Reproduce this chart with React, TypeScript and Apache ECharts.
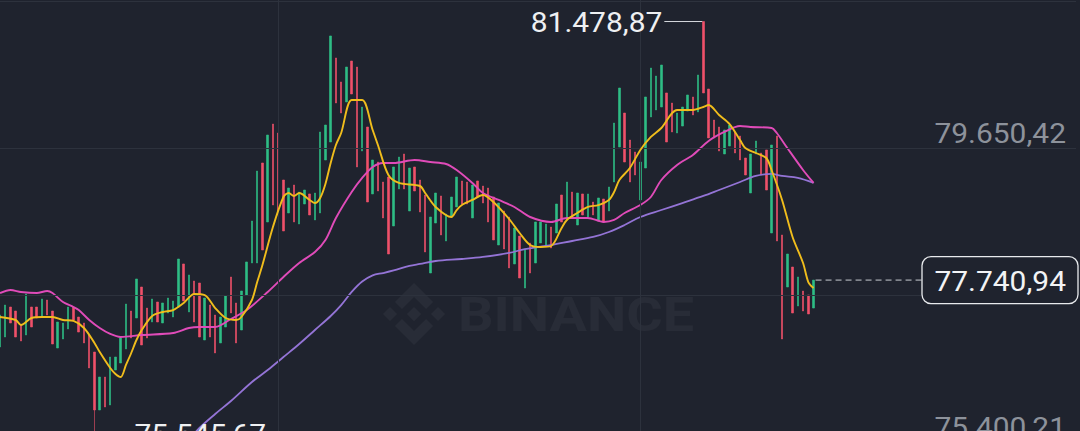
import React, { useEffect, useRef } from "react";
import * as echarts from "echarts";

// ---- data ----
const opens = [
  76774, 76918, 77352, 77294, 77092, 76947, 77352, 77352, 77207, 77453,
  77294, 76759, 76889, 77034, 77352, 77207, 77121, 76947, 76701, 75863,
  76340, 75935, 76441, 76542, 76745, 77294, 77193, 77641, 77337, 77135,
  77424, 77121, 77265, 77207, 77352, 77974, 77280, 77728, 77699, 76875,
  77381, 77236, 76832, 77063, 77786, 77410, 77019, 77525, 77988, 77988,
  79434, 78581, 79997, 79867, 79188, 78711, 79116, 78552, 78841, 78986,
  78610, 78711, 79477, 79737, 80952, 80605, 80316, 80908, 80821, 79607,
  79954, 78986, 79448, 79159, 79231, 78523, 79058, 79564, 78740, 79376,
  79188, 78971, 77843, 78566, 78957, 78306, 78653, 78798, 79174, 79159,
  78639, 79174, 79101, 79072, 78942, 78248, 78740, 78653, 77974, 78378,
  77626, 78277, 77988, 78277, 78248, 78508, 78422, 78971, 78610, 79014,
  78537, 78986, 78653, 78870, 78595, 78913, 78740, 79159, 79665, 80156,
  79766, 79593, 78899, 79361, 80099, 80200, 80243, 80446, 80301, 79867,
  79968, 80185, 80388, 80171, 81478.87, 80503, 80055, 79954, 79564, 79679,
  79882, 79824, 79506, 79000, 79564, 79578, 79622, 78422, 79824, 78393,
  77641, 77930, 77366, 77583, 77525, 77337,
];
const closes = [
  77236, 77381, 77121, 76918, 76860, 77540, 77063, 77193, 77468, 77236,
  76817, 77135, 77121, 77352, 77164, 76990, 76832, 76470, 75863, 76340,
  75906, 76629, 76629, 76904, 77395, 76904, 77757, 76803, 76904, 77468,
  77135, 77410, 77482, 77439, 78046, 77439, 77815, 77135, 76918, 77482,
  76918, 76687, 77207, 77511, 77265, 76832, 77583, 78003, 78595, 79318,
  78176, 79838, 78826, 78682, 78451, 79072, 78581, 79014, 79043, 78682,
  79000, 79882, 79983, 81270, 80301, 80156, 80821, 80431, 79376, 80243,
  78870, 79477, 79029, 78639, 78118, 79376, 79520, 79058, 79361, 79029,
  78725, 78147, 78653, 79000, 78393, 78696, 78942, 79231, 78841, 78841,
  79116, 78942, 78855, 78581, 78321, 78855, 78190, 77916, 78494, 77771,
  78190, 77843, 78581, 78581, 78552, 78205, 78841, 78581, 79159, 78653,
  79000, 78682, 78986, 78682, 78928, 78581, 79087, 80012, 80518, 79448,
  79159, 79260, 79448, 80388, 80807, 80691, 80850, 79737, 79882, 80156,
  80243, 80417, 80128, 80706, 80446, 79795, 79795, 79607, 79911, 79983,
  79578, 79477, 79260, 79564, 79752, 79260, 79043, 79694, 78306, 76889,
  78118, 77265, 77786, 77294, 77251, 77740.94,
];
const lowestCandle = 18;
const lowestLow = 75545.67;
const highestCandle = 134;
const highestHigh = 81478.87;
const lastPrice = 77740.94;

// moving averages as [candle index, value]
const ma7: [number, number][] = [
  [0, 77207], [3, 77164], [4, 77092], [6, 77193], [8, 77207], [10, 77207], [12, 77164],
  [14, 77150], [16, 77048], [18, 76832], [19, 76701], [21, 76470], [22, 76384], [23, 76340],
  [24, 76514], [25, 76687], [26, 76875], [27, 77019], [29, 77222], [31, 77280], [33, 77308],
  [35, 77410], [37, 77540], [39, 77525], [41, 77337], [43, 77193], [45, 77164], [46, 77207],
  [48, 77453], [49, 77713], [50, 77959], [52, 78508], [54, 78942], [55, 79000], [56, 78957],
  [57, 79000], [59, 78899], [60, 78855], [61, 78928], [62, 79130], [63, 79434], [64, 79694],
  [65, 79867], [67, 80344], [69, 80344], [71, 79911], [72, 79694], [74, 79260], [76, 79145],
  [80, 79101], [81, 79000], [83, 78798], [86, 78653], [87, 78754], [88, 78826], [90, 78899],
  [92, 78971], [94, 78870], [97, 78624], [99, 78422], [101, 78248], [103, 78219], [105, 78234],
  [107, 78494], [108, 78610], [110, 78711], [112, 78798], [114, 78826], [116, 78899], [117, 79014],
  [118, 79188], [120, 79361], [122, 79622], [124, 79810], [126, 79940], [129, 80200], [132, 80200],
  [134, 80243], [135, 80272], [137, 80128], [139, 79997], [141, 79766], [142, 79650], [144, 79578],
  [146, 79506], [147, 79332], [149, 78899], [151, 78364], [153, 77988], [154, 77713], [155, 77626],
];
const ma25: [number, number][] = [
  [0, 77554], [2, 77598], [4, 77569], [7, 77554], [9, 77583], [10, 77554], [12, 77424],
  [14, 77352], [15, 77308], [17, 77164], [19, 77048], [21, 76962], [23, 76918], [27, 76947],
  [33, 76976], [36, 77048], [38, 77063], [41, 77063], [44, 77178], [47, 77308], [51, 77569],
  [54, 77786], [57, 77988], [60, 78147], [62, 78321], [64, 78639], [67, 79014], [69, 79217],
  [71, 79376], [73, 79434], [75, 79434], [79, 79477], [82, 79448], [85, 79419], [87, 79332],
  [90, 79145], [92, 79000], [95, 78899], [98, 78798], [101, 78653], [105, 78581], [108, 78639],
  [112, 78639], [115, 78581], [117, 78610], [119, 78711], [122, 78826], [124, 78942], [126, 79188],
  [129, 79405], [132, 79549], [135, 79752], [138, 79882], [141, 79968], [143, 79954], [147, 79940],
  [148, 79867], [150, 79650], [153, 79332], [155, 79145],
];
const ma99: [number, number][] = [
  [36, 75429], [38, 75603], [41, 75805], [44, 75993], [48, 76268], [51, 76441], [54, 76629],
  [57, 76817], [60, 77019], [63, 77222], [65, 77380], [67, 77570], [69, 77720], [71, 77810],
  [73, 77843], [75, 77880], [78, 77945], [80, 77974], [83, 78017], [88, 78046], [92, 78075],
  [97, 78133], [100, 78190], [104, 78234], [109, 78306], [113, 78364], [116, 78436], [119, 78537],
  [122, 78653], [126, 78754], [130, 78855], [134, 78957], [137, 79043], [141, 79159], [144, 79246],
  [147, 79275], [149, 79246], [152, 79217], [155, 79145],
];

const priceLabels = [79650.42, 75400.21];
const gridValues = [81775.53, 79650.42, 77525.32];
const gridCandles = ["53", "122"];
const viewMin = 75559.4;
const viewMax = 81789.9;
const slotCount = 206;
const categories = Array.from({ length: slotCount }, (_, i) => String(i));

// ---- styles ----
const BG = "#1f232e";
const GRID = "#2d323d";
const UP = "#2ebd85";
const DOWN = "#f0506a";
const FONT = "Roboto, 'Noto Sans', sans-serif";
const LABEL_SCALE = 1.07;

const LOGO_D =
  "M38.73 53.2l24.59-24.58 24.6 24.6 14.3-14.31L63.32 0 24.43 38.9l14.3 14.3zM0 63.31l14.3-14.31 14.31 14.31-14.31 14.3L0 63.31zm38.73 10.11l24.59 24.59 24.6-24.6 14.31 14.29-38.9 38.91-38.9-38.88-.02-.02 14.32-14.29zm59.24-10.1l14.3-14.31 14.31 14.3-14.31 14.31-14.3-14.3zM77.83 63.3L63.32 48.78 52.59 59.51l-1.24 1.23-2.54 2.54-.02.02.02.03 14.51 14.5 14.51-14.52.01-.01-.01-.01z";

let logoRegistered = false;

function fmt(v: number): string {
  const [i, d] = v.toFixed(2).split(".");
  return i.replace(/\B(?=(\d{3})+(?!\d))/g, ".") + "," + d;
}

export default function App() {
  const ref = useRef<HTMLDivElement>(null);
  useEffect(() => {
    document.body.style.margin = "0";
    document.body.style.background = BG;
    if (!logoRegistered) {
      echarts.graphic.registerShape("bnbLogo", echarts.graphic.extendPath(LOGO_D, {}));
      logoRegistered = true;
    }
    const chart = echarts.init(ref.current!, undefined, { renderer: "svg" });
    const candles = opens.map((o, i) => {
      const c = closes[i];
      const lo = i === lowestCandle ? lowestLow : Math.min(o, c);
      const hi = i === highestCandle ? highestHigh : Math.max(o, c);
      return [o, c, lo, hi];
    });
    chart.setOption({
      animation: false,
      backgroundColor: BG,
      grid: { left: 0, right: 4, top: 0, bottom: 0, containLabel: false },
      xAxis: { type: "category", data: categories, boundaryGap: false, show: false },
      yAxis: { type: "value", min: viewMin, max: viewMax, show: false, splitLine: { show: false } },
      series: [
        {
          type: "line",
          data: [],
          z: 1,
          silent: true,
          markLine: {
            silent: true,
            symbol: ["none", "none"],
            label: { show: false },
            lineStyle: { color: GRID, width: 1, type: "solid" },
            data: [
              ...gridValues.map((v) => ({ yAxis: v })),
              ...gridCandles.map((c) => ({ xAxis: c })),
            ],
          },
        },
        {
          type: "candlestick",
          data: candles,
          barWidth: 2,
          z: 2,
          itemStyle: {
            color: UP,
            color0: DOWN,
            borderColor: UP,
            borderColor0: DOWN,
            borderWidth: 0.6,
          },
        },
        {
          type: "line",
          data: ma99,
          smooth: 0.35,
          showSymbol: false,
          z: 3,
          lineStyle: { color: "#9474d6", width: 1.8 },
        },
        {
          type: "line",
          data: ma25,
          smooth: 0.3,
          showSymbol: false,
          z: 4,
          lineStyle: { color: "#e04bb9", width: 1.9 },
        },
        {
          type: "line",
          data: ma7,
          smooth: 0.3,
          showSymbol: false,
          z: 5,
          lineStyle: { color: "#f0bd1c", width: 1.9 },
        },
      ],
    });

    const hp = chart.convertToPixel({ gridIndex: 0 }, [highestCandle, highestHigh]) as number[];
    const lp = chart.convertToPixel({ gridIndex: 0 }, [lowestCandle, lowestLow]) as number[];
    const cp = chart.convertToPixel({ gridIndex: 0 }, [opens.length - 1, lastPrice]) as number[];
    const W = 1080;
    const boxLeft = W - 158;
    const textRight = W - 14;

    const txt = (text: string, x: number, y: number, align: string, fill: string, z = 50) => ({
      type: "text",
      z,
      x,
      y,
      scaleX: LABEL_SCALE,
      silent: true,
      style: {
        text,
        font: `28px ${FONT}`,
        fill,
        textAlign: align,
        textVerticalAlign: "middle",
        align,
        verticalAlign: "middle",
      },
    });

    const graphics: any[] = [
      {
        type: "bnbLogo",
        x: 383,
        y: 283,
        scaleX: 0.49,
        scaleY: 0.49,
        z: 0,
        silent: true,
        style: { fill: "rgba(255,255,255,0.045)" },
      },
      {
        type: "text",
        x: 458,
        y: 315,
        scaleX: 1.16,
        z: 0,
        silent: true,
        style: {
          text: "BINANCE",
          font: `bold 48px ${FONT}`,
          fill: "rgba(255,255,255,0.045)",
          textAlign: "left",
          textVerticalAlign: "middle",
          align: "left",
          verticalAlign: "middle",
        },
      },
      // highest price marker
      {
        type: "line",
        z: 50,
        shape: { x1: hp[0] - 39, y1: hp[1], x2: hp[0] - 1, y2: hp[1] },
        style: { stroke: "#d6d9de", lineWidth: 1 },
      },
      txt(fmt(highestHigh), hp[0] - 41, hp[1] + 1, "right", "#eef0f2"),
      // lowest price marker
      {
        type: "line",
        z: 50,
        shape: { x1: lp[0] + 2, y1: lp[1], x2: lp[0] + 37, y2: lp[1] },
        style: { stroke: "#d6d9de", lineWidth: 1 },
      },
      txt(fmt(lowestLow), lp[0] + 40, lp[1] + 2, "left", "#eef0f2"),
      // current price
      {
        type: "line",
        z: 50,
        shape: { x1: cp[0] + 2, y1: cp[1], x2: boxLeft, y2: cp[1] },
        style: { stroke: "#c9cdd3", lineWidth: 1, lineDash: [6, 4] },
      },
      {
        type: "rect",
        z: 50,
        shape: { x: boxLeft, y: cp[1] - 23.5, width: 156, height: 47, r: 9 },
        style: { fill: BG, stroke: "#e8eaed", lineWidth: 1.3 },
      },
      txt(fmt(lastPrice), textRight, cp[1] + 1, "right", "#f2f3f5", 51),
    ];
    priceLabels.forEach((v) => {
      const p = chart.convertToPixel({ gridIndex: 0 }, [0, v]) as number[];
      graphics.push(txt(fmt(v), textRight, p[1] - 15, "right", "#8d929b"));
    });
    chart.setOption({ graphic: graphics });

    return () => chart.dispose();
  }, []);

  return (
    <div
      ref={ref}
      style={{ position: "fixed", left: 0, top: 0, width: 1080, height: 431 }}
    />
  );
}
